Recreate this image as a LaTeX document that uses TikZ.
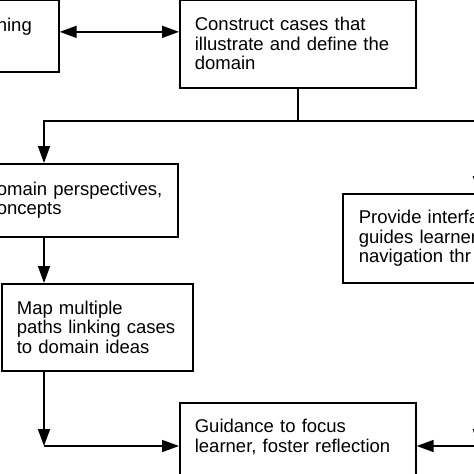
\documentclass[tikz,border=0pt]{standalone}
\usepackage{fontspec}
\setmainfont{Liberation Sans}
\usetikzlibrary{arrows.meta}
\tikzstyle{arrow}=[->,>={Triangle[length=17pt,width=12pt]}]
\tikzstyle{box}=[draw, rectangle, anchor=north west, align=left, inner xsep=15pt, inner ysep=0pt,
  font=\fontsize{18.5pt}{19.5pt}\selectfont]
\tikzset{every picture/.style={
    line width=1.7pt
  }
}

\begin{document}
\begin{tikzpicture}[x=1pt,y=-1pt]
      \useasboundingbox (0,0) rectangle (474,474);
      \clip (0,0) rectangle (474,474);
      \node[box, text width=47pt, inner ysep=16pt, text height=16pt, text depth=24pt] at (-19,-1) (goals) {ning};
      \node[box, text width=206pt, minimum height=88pt] at (179,-1) (cases) {Construct cases that\\illustrate and define the\\domain};
      \node[box, inner xsep=12pt, text width=169pt, minimum height=73pt] at (-16,163) (concepts) {omain perspectives,\\oncepts};
      \node[box, text width=161pt, minimum height=87pt] at (1,283) (paths) {Map multiple\\paths linking cases\\to domain ideas};
      \node[box, inner xsep=16pt, text width=240pt, minimum height=89pt] at (342,193) (interface) {Provide interfa\\guides learner\\navigation thr};
      \node[box, text width=206pt, inner ysep=16.5pt, text depth=45pt] at (179,402) (guidance) {Guidance to focus\\learner, foster reflection};
      \coordinate (colL) at (44,0);
      \coordinate (joinL) at (44,446);
      \coordinate (joinR) at (joinL -| interface.south);
      \draw[arrow, <->] (goals.base east) -- (goals.base east -| cases.west);
      \draw (cases.south) -- ++(0,32) coordinate (fork);
      \draw[arrow] (fork) -| (interface.north);
      \draw[arrow] (fork) -| (colL |- concepts.north);
      \draw[arrow] (colL |- concepts.south) -- (colL |- paths.north);
      \draw[arrow] (colL |- paths.south) -- (joinL);
      \draw[arrow] (joinL) -- (joinL -| guidance.west);
      \draw[arrow] (interface.south) -- (joinR);
      \draw[arrow] (joinR) -- (joinR -| guidance.east);
    \end{tikzpicture}
\end{document}
